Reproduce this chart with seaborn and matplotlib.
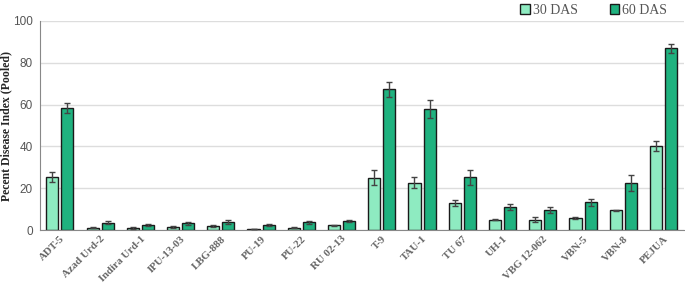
import numpy as np
import pandas as pd
import matplotlib
matplotlib.use("Agg")
import matplotlib.pyplot as plt
import seaborn as sns

# Genotypes and pooled disease index (mean, error) at 30 and 60 DAS
genotypes = ["ADT-5", "Azad Urd-2", "Indira Urd-1", "IPU-13-03", "LBG-888", "PU-19",
             "PU-22", "RU 02-13", "T-9", "TAU-1", "TU 67", "UH-1", "VBG 12-062",
             "VBN-5", "VBN-8", "PEJUA"]
pdi_30 = [25.5, 1.2, 1.0, 1.5, 2.0, 0.5, 1.2, 2.2, 25.0, 22.6, 12.9, 5.0, 5.0, 5.8, 9.4, 40.2]
err_30 = [2.5, 0.3, 0.3, 0.5, 0.3, 0.2, 0.2, 0.3, 3.5, 2.6, 1.3, 0.3, 1.2, 0.4, 0.3, 2.3]
pdi_60 = [58.5, 3.5, 2.5, 3.2, 4.0, 2.3, 3.8, 4.5, 67.3, 58.0, 25.2, 11.2, 9.5, 13.2, 22.5, 86.9]
err_60 = [2.4, 0.8, 0.5, 0.6, 1.0, 0.5, 0.7, 0.5, 3.7, 4.4, 3.6, 1.5, 1.4, 1.6, 3.8, 2.0]

df = pd.DataFrame({
    "genotype": genotypes * 2,
    "stage": ["30 DAS"] * len(genotypes) + ["60 DAS"] * len(genotypes),
    "pdi": pdi_30 + pdi_60,
    "err": err_30 + err_60,
})

sns.set_style("white")
plt.rcParams["font.family"] = ["Liberation Serif", "DejaVu Serif"]

fig = plt.figure(figsize=(6.85, 2.83), dpi=100)
ax = fig.add_axes([0.058, 0.187, 0.940, 0.739])

sns.barplot(data=df, x="genotype", y="pdi", hue="stage",
            palette=["#8eebc1", "#1fb27f"], saturation=1, width=0.75, gap=0.2,
            edgecolor="#1a1a1a", linewidth=1.0, errorbar=None, ax=ax)

# error bars on top of each bar
for cont, errs in zip(ax.containers, [err_30, err_60]):
    xs = [p.get_x() + p.get_width() / 2 for p in cont.patches]
    ys = [p.get_height() for p in cont.patches]
    ax.errorbar(xs, ys, yerr=errs, fmt="none", ecolor="#444444",
                elinewidth=1.0, capsize=2.5, capthick=1.0, zorder=5)

ax.set_ylim(0, 100)
ax.set_xlim(-0.5, len(genotypes) - 0.5)
ax.set_yticks([0, 20, 40, 60, 80, 100])
ax.yaxis.grid(True, color="#dddddd", linewidth=1.0)
ax.set_axisbelow(True)

for s in ["top", "right"]:
    ax.spines[s].set_visible(False)
ax.spines["left"].set_color("#888888")
ax.spines["bottom"].set_color("#888888")

ax.tick_params(axis="y", length=3, pad=2, color="#888888", labelsize=8.5, labelcolor="#555555")
for t in ax.get_yticklabels():
    t.set_family(["Liberation Sans", "DejaVu Sans"])
ax.set_xticks(range(len(genotypes)))
ax.set_xticks(np.arange(-0.5, len(genotypes), 1.0), minor=True)
ax.tick_params(axis="x", which="major", length=0, pad=3)
ax.tick_params(axis="x", which="minor", length=4, color="#888888")
ax.set_xticklabels(genotypes, rotation=45, ha="right", rotation_mode="anchor",
                   fontsize=7.8, fontweight="bold", color="#666666")

ax.set_xlabel("")
ax.set_ylabel("Pecent Disease Index (Pooled)", fontsize=8.5, fontweight="bold")
ax.yaxis.set_label_coords(-0.043, 0.5)

handles, labels = ax.get_legend_handles_labels()
ax.legend(handles, labels, loc="lower right", bbox_to_anchor=(0.985, 0.985), ncol=2,
          frameon=False, fontsize=10, handlelength=0.7, handleheight=0.7,
          handletextpad=0.2, columnspacing=2.3, borderpad=0,
          labelcolor="#555555")

fig.savefig("out.png", dpi=100)
